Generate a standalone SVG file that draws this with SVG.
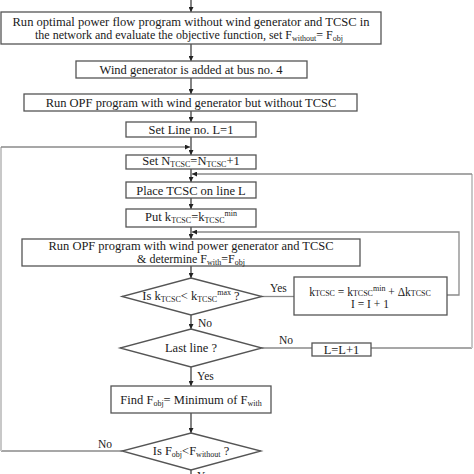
<svg xmlns="http://www.w3.org/2000/svg" width="474" height="474" viewBox="0 0 474 474">
<defs>
<marker id="ah" viewBox="0 0 10 10" refX="10" refY="5" markerWidth="5" markerHeight="5" orient="auto" markerUnits="userSpaceOnUse">
<path d="M0,0 L10,5 L0,10 z" fill="#222"/>
</marker>
</defs>
<style>
.box{fill:#fff;stroke:#555;stroke-width:1.3}
.t{font-family:"Liberation Serif","Times New Roman",serif;font-size:12.5px;fill:#1a1a1a;text-anchor:middle}
.t2{font-size:12px}
.s{font-size:8px}
.lbl{font-family:"Liberation Serif","Times New Roman",serif;font-size:11.5px;fill:#1a1a1a}
.c{fill:none;stroke:#333;stroke-width:1.2}
.g{fill:none;stroke:#8a8a8a;stroke-width:1.3}
.lg{fill:none;stroke:#c8c8c8;stroke-width:2}
</style>
<rect width="474" height="474" fill="#fff"/>
<g id="connectors">
<line class="c" x1="191" y1="0" x2="191" y2="12" marker-end="url(#ah)"/>
<line class="c" x1="191" y1="44" x2="191" y2="61" marker-end="url(#ah)"/>
<line class="c" x1="191" y1="78" x2="191" y2="94" marker-end="url(#ah)"/>
<line class="c" x1="191" y1="111" x2="191" y2="122" marker-end="url(#ah)"/>
<line class="c" x1="191" y1="137" x2="191" y2="155" marker-end="url(#ah)"/>
<line class="c" x1="191" y1="169" x2="191" y2="182" marker-end="url(#ah)"/>
<line class="c" x1="191" y1="198" x2="191" y2="209" marker-end="url(#ah)"/>
<line class="c" x1="191" y1="227" x2="191" y2="239" marker-end="url(#ah)"/>
<line class="c" x1="191" y1="266" x2="191" y2="278" marker-end="url(#ah)"/>
<line class="c" x1="191" y1="315" x2="191" y2="329" marker-end="url(#ah)"/>
<line class="c" x1="191" y1="367" x2="191" y2="386" marker-end="url(#ah)"/>
<line class="c" x1="191" y1="413" x2="191" y2="433" marker-end="url(#ah)"/>
<line class="c" x1="191" y1="470" x2="191" y2="476"/>
<polyline class="g" points="122,451 1,451"/>
<line class="lg" x1="1" y1="451" x2="1" y2="147"/>
<polyline class="g" points="1,147 190,147" marker-end="url(#ah)"/>
<line class="g" x1="262" y1="348" x2="312" y2="348"/>
<polyline class="g" points="371,348 472,348"/>
<line class="lg" x1="472" y1="348" x2="472" y2="174"/>
<polyline class="g" points="472,174 192,174" marker-end="url(#ah)"/>
<line class="g" x1="262" y1="296.5" x2="294" y2="296.5"/>
<polyline class="g" points="447,295 459,295 459,232 192,232" marker-end="url(#ah)"/>
<text class="lbl" x="270" y="292">Yes</text>
<text class="lbl" x="198" y="327">No</text>
<text class="lbl" x="279" y="344">No</text>
<text class="lbl" x="197" y="380">Yes</text>
<text class="lbl" x="98" y="448">No</text>
<text class="lbl" x="197" y="480">Yes</text>
</g>
<g id="n1">
<rect class="box" x="1" y="12" width="380" height="32"/>
<text class="t t2" x="191" y="25.5" textLength="357" lengthAdjust="spacingAndGlyphs">Run optimal power flow program without wind  generator and TCSC in</text>
<text class="t t2" x="189" y="39">the network and evaluate the objective function, set F<tspan class="s" dy="2">without</tspan><tspan dy="-2">= F</tspan><tspan class="s" dy="2">obj</tspan></text>
</g>
<g id="n2">
<rect class="box" x="76" y="61" width="231" height="17"/>
<text class="t" x="191" y="74">Wind generator is added at bus no. 4</text>
</g>
<g id="n3">
<rect class="box" x="24" y="94" width="333" height="17"/>
<text class="t" x="191" y="107">Run OPF program with wind generator but without TCSC</text>
</g>
<g id="n4">
<rect class="box" x="126" y="122" width="130" height="15"/>
<text class="t" x="191" y="134">Set Line no. L=1</text>
</g>
<g id="n5">
<rect class="box" x="126" y="155" width="130" height="14"/>
<text class="t" x="191" y="165">Set N<tspan class="s" dy="2">TCSC</tspan><tspan dy="-2">=N</tspan><tspan class="s" dy="2">TCSC</tspan><tspan dy="-2">+1</tspan></text>
</g>
<g id="n6">
<rect class="box" x="126" y="182" width="130" height="16"/>
<text class="t" x="191" y="194.5">Place TCSC on line L</text>
</g>
<g id="n7">
<rect class="box" x="126" y="209" width="130" height="18"/>
<text class="t" x="191" y="221">Put k<tspan class="s" dy="2">TCSC</tspan><tspan dy="-2">=k</tspan><tspan class="s" dy="2">TCSC</tspan><tspan class="s" dy="-7">min</tspan></text>
</g>
<g id="n8">
<rect class="box" x="22" y="239" width="338" height="27"/>
<text class="t t2" x="191" y="249.5" textLength="285" lengthAdjust="spacingAndGlyphs">Run OPF program with wind power generator and TCSC</text>
<text class="t t2" x="191" y="263">&amp; determine F<tspan class="s" dy="2">with</tspan><tspan dy="-2">=F</tspan><tspan class="s" dy="2">obj</tspan></text>
</g>
<g id="d1">
<polygon class="box" points="191,278 262,296.5 191,315 122,296.5"/>
<text class="t" x="191" y="300">Is k<tspan class="s" dy="2">TCSC</tspan><tspan dy="-2">&lt; k</tspan><tspan class="s" dy="2">TCSC</tspan><tspan class="s" dy="-7">max</tspan><tspan dy="5"> ?</tspan></text>
</g>
<g id="n9">
<rect class="box" x="294" y="277" width="153" height="38"/>
<text class="t" x="370" y="296" style="font-size:11.5px">k<tspan class="s">TCSC</tspan> = k<tspan class="s">TCSC</tspan><tspan class="s" dy="-5">min</tspan><tspan dy="5"> + Δk</tspan><tspan class="s">TCSC</tspan></text>
<text class="t" x="370" y="308" style="font-size:11.5px">I = I + 1</text>
</g>
<g id="d2">
<polygon class="box" points="191,329 262,348 191,367 120,348"/>
<text class="t" x="191" y="352">Last line ?</text>
</g>
<g id="n10">
<rect class="box" x="312" y="343" width="59" height="13"/>
<text class="t" x="341.5" y="353.5">L=L+1</text>
</g>
<g id="n11">
<rect class="box" x="111" y="386" width="160" height="27"/>
<text class="t" x="191" y="404">Find F<tspan class="s" dy="2">obj</tspan><tspan dy="-2">= Minimum of F</tspan><tspan class="s" dy="2">with</tspan></text>
</g>
<g id="d3">
<polygon class="box" points="191,433 261,451 191,470 122,451"/>
<text class="t" x="191" y="455">Is F<tspan class="s" dy="2">obj</tspan><tspan dy="-2">&lt;F</tspan><tspan class="s" dy="2">without</tspan><tspan dy="-2"> ?</tspan></text>
</g>
</svg>
